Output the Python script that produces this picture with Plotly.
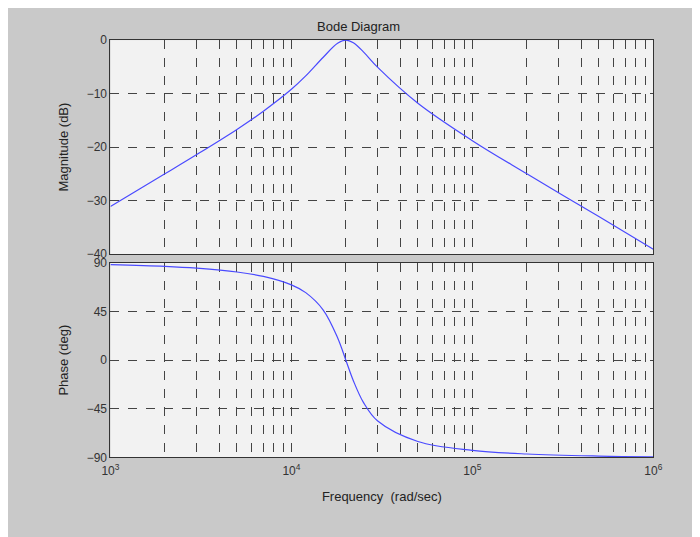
import plotly.graph_objects as go

freq = [1e3, 2e3, 3e3, 5e3, 7e3, 1e4, 1.2e4, 1.5e4, 1.8e4, 2e4, 2.2e4, 2.5e4, 3e4, 5e4, 1e5, 2e5, 5e5, 1e6]
mag_db = [-31.1, -25.0, -21.4, -16.7, -13.3, -9.2, -6.7, -3.2, -0.6, 0.0, -0.5, -2.2, -5.1, -11.8, -18.8, -25.0, -33.0, -39.1]
phase_deg = [88.4, 86.8, 85.1, 81.6, 77.5, 69.7, 62.5, 46.4, 20.8, 0.0, -19.0, -39.0, -56.3, -75.2, -83.4, -86.8, -88.7, -89.4]

grid_vals = [m * 10**k for k in range(3, 6) for m in range(1, 10)] + [1e6]
grid_text = [("10<sup>%d</sup>" % k if m == 1 else "") for k in range(3, 6) for m in range(1, 10)] + ["10<sup>6</sup>"]

line = dict(color="#4a4aff", width=1.2)
fig = go.Figure()
fig.add_trace(go.Scatter(x=freq, y=mag_db, mode="lines", line=dict(line, shape="spline"), xaxis="x", yaxis="y"))
fig.add_trace(go.Scatter(x=freq, y=phase_deg, mode="lines", line=dict(line, shape="spline"), xaxis="x2", yaxis="y2"))

ax = dict(type="log", range=[3, 6], tickvals=grid_vals, showgrid=True, gridcolor="#444", griddash="dash",
          gridwidth=0.6, showline=True, linecolor="#333", mirror=True, ticks="", zeroline=False,
          domain=[0.137, 0.933], tickfont=dict(family="Liberation Sans", size=12, color="#333"))
ay = dict(showgrid=True, gridcolor="#444", griddash="dash", gridwidth=0.6, showline=True, linecolor="#333",
          mirror=True, zeroline=False, ticks="", tickfont=dict(family="Liberation Sans", size=12, color="#333"),
          title_font=dict(family="Liberation Sans", size=13, color="#222"))

fig.update_layout(
    width=700, height=537, showlegend=False,
    margin=dict(l=0, r=0, t=0, b=0),
    paper_bgcolor="#c9c9c9", plot_bgcolor="#f2f2f2",
    xaxis=dict(ax, anchor="y", showticklabels=False),
    yaxis=dict(ay, domain=[0.543, 0.952], range=[-40, 0], tickvals=[-40, -30, -20, -10, 0], title_text="Magnitude (dB)"),
    xaxis2=dict(ax, anchor="y2", ticktext=grid_text, title_text="Frequency  (rad/sec)",
                title_font=dict(family="Liberation Sans", size=13, color="#222")),
    yaxis2=dict(ay, domain=[0.154, 0.526], range=[-90, 90], tickvals=[-90, -45, 0, 45, 90], title_text="Phase (deg)"),
    annotations=[dict(text="Bode Diagram", x=0.5, xref="paper", xanchor="center", y=0.978, yref="paper",
                      yanchor="middle", showarrow=False, font=dict(family="Liberation Sans", size=13, color="#222"))],
)
fig.update_xaxes(ticklabelstandoff=2)
fig.write_html("out.html")
